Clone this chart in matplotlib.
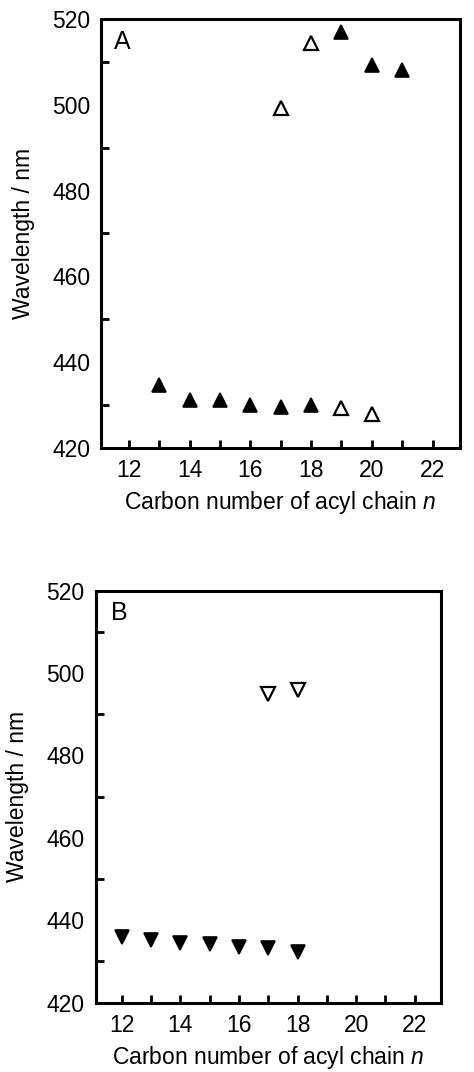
import matplotlib
matplotlib.use('Agg')
import matplotlib.pyplot as plt
from matplotlib.ticker import MultipleLocator

plt.rcParams['font.family'] = ['Liberation Sans', 'DejaVu Sans']
plt.rcParams['mathtext.fontset'] = 'custom'
plt.rcParams['mathtext.it'] = 'Liberation Sans:italic'
plt.rcParams['mathtext.rm'] = 'Liberation Sans'

# panel A (up triangles)
a_fill_n = [13, 14, 15, 16, 17, 18, 19, 20, 21]
a_fill_wl = [434.6, 431.1, 431.1, 430.1, 429.6, 430.1, 516.9, 509.3, 508.0]
a_open_n = [17, 18, 19, 20]
a_open_wl = [499.3, 514.3, 429.4, 428.0]

# panel B (down triangles)
b_fill_n = [12, 13, 14, 15, 16, 17, 18]
b_fill_wl = [435.8, 435.1, 434.5, 434.1, 433.6, 433.2, 432.2]
b_open_n = [17, 18]
b_open_wl = [494.9, 495.9]

xlabel = 'Carbon number of acyl chain $\\mathit{n}$'
ylabel = 'Wavelength / nm'

fig = plt.figure(figsize=(4.74, 10.72), dpi=100)
ax1 = fig.add_axes([0.2141, 0.5821, 0.7563, 0.4002])
ax2 = fig.add_axes([0.2015, 0.0648, 0.7289, 0.3843])


def style(ax, letter, lx, ly):
    ax.set_xlim(11.1, 22.9)
    ax.set_ylim(420, 520)
    ax.xaxis.set_major_locator(MultipleLocator(2))
    ax.xaxis.set_minor_locator(MultipleLocator(1))
    ax.yaxis.set_major_locator(MultipleLocator(20))
    ax.yaxis.set_minor_locator(MultipleLocator(10))
    ax.tick_params(axis='x', which='both', direction='in', length=6, width=2,
                   labelsize=16.5, pad=8, top=False)
    ax.tick_params(axis='y', which='major', length=0, labelsize=16.5, pad=8)
    ax.tick_params(axis='y', which='minor', direction='in', length=6, width=2,
                   right=False)
    for s in ax.spines.values():
        s.set_linewidth(2.2)
    ax.set_xlabel(xlabel, fontsize=16.5, labelpad=5)
    ax.set_ylabel(ylabel, fontsize=16.5, labelpad=12)
    ax.text(lx, ly, letter, transform=ax.transAxes, fontsize=18,
            ha='left', va='top')


ax1.plot(a_fill_n, a_fill_wl, '^', ms=10.5, color='black', mec='black', mew=1.2,
         linestyle='none')
ax1.plot(a_open_n, a_open_wl, '^', ms=10, mfc='white', mec='black', mew=1.6,
         linestyle='none')
style(ax1, 'A', 0.035, 0.975)

ax2.plot(b_fill_n, b_fill_wl, 'v', ms=10.5, color='black', mec='black', mew=1.2,
         linestyle='none')
ax2.plot(b_open_n, b_open_wl, 'v', ms=10, mfc='white', mec='black', mew=1.6,
         linestyle='none')
style(ax2, 'B', 0.045, 0.975)

fig.savefig('out.png', dpi=100)
